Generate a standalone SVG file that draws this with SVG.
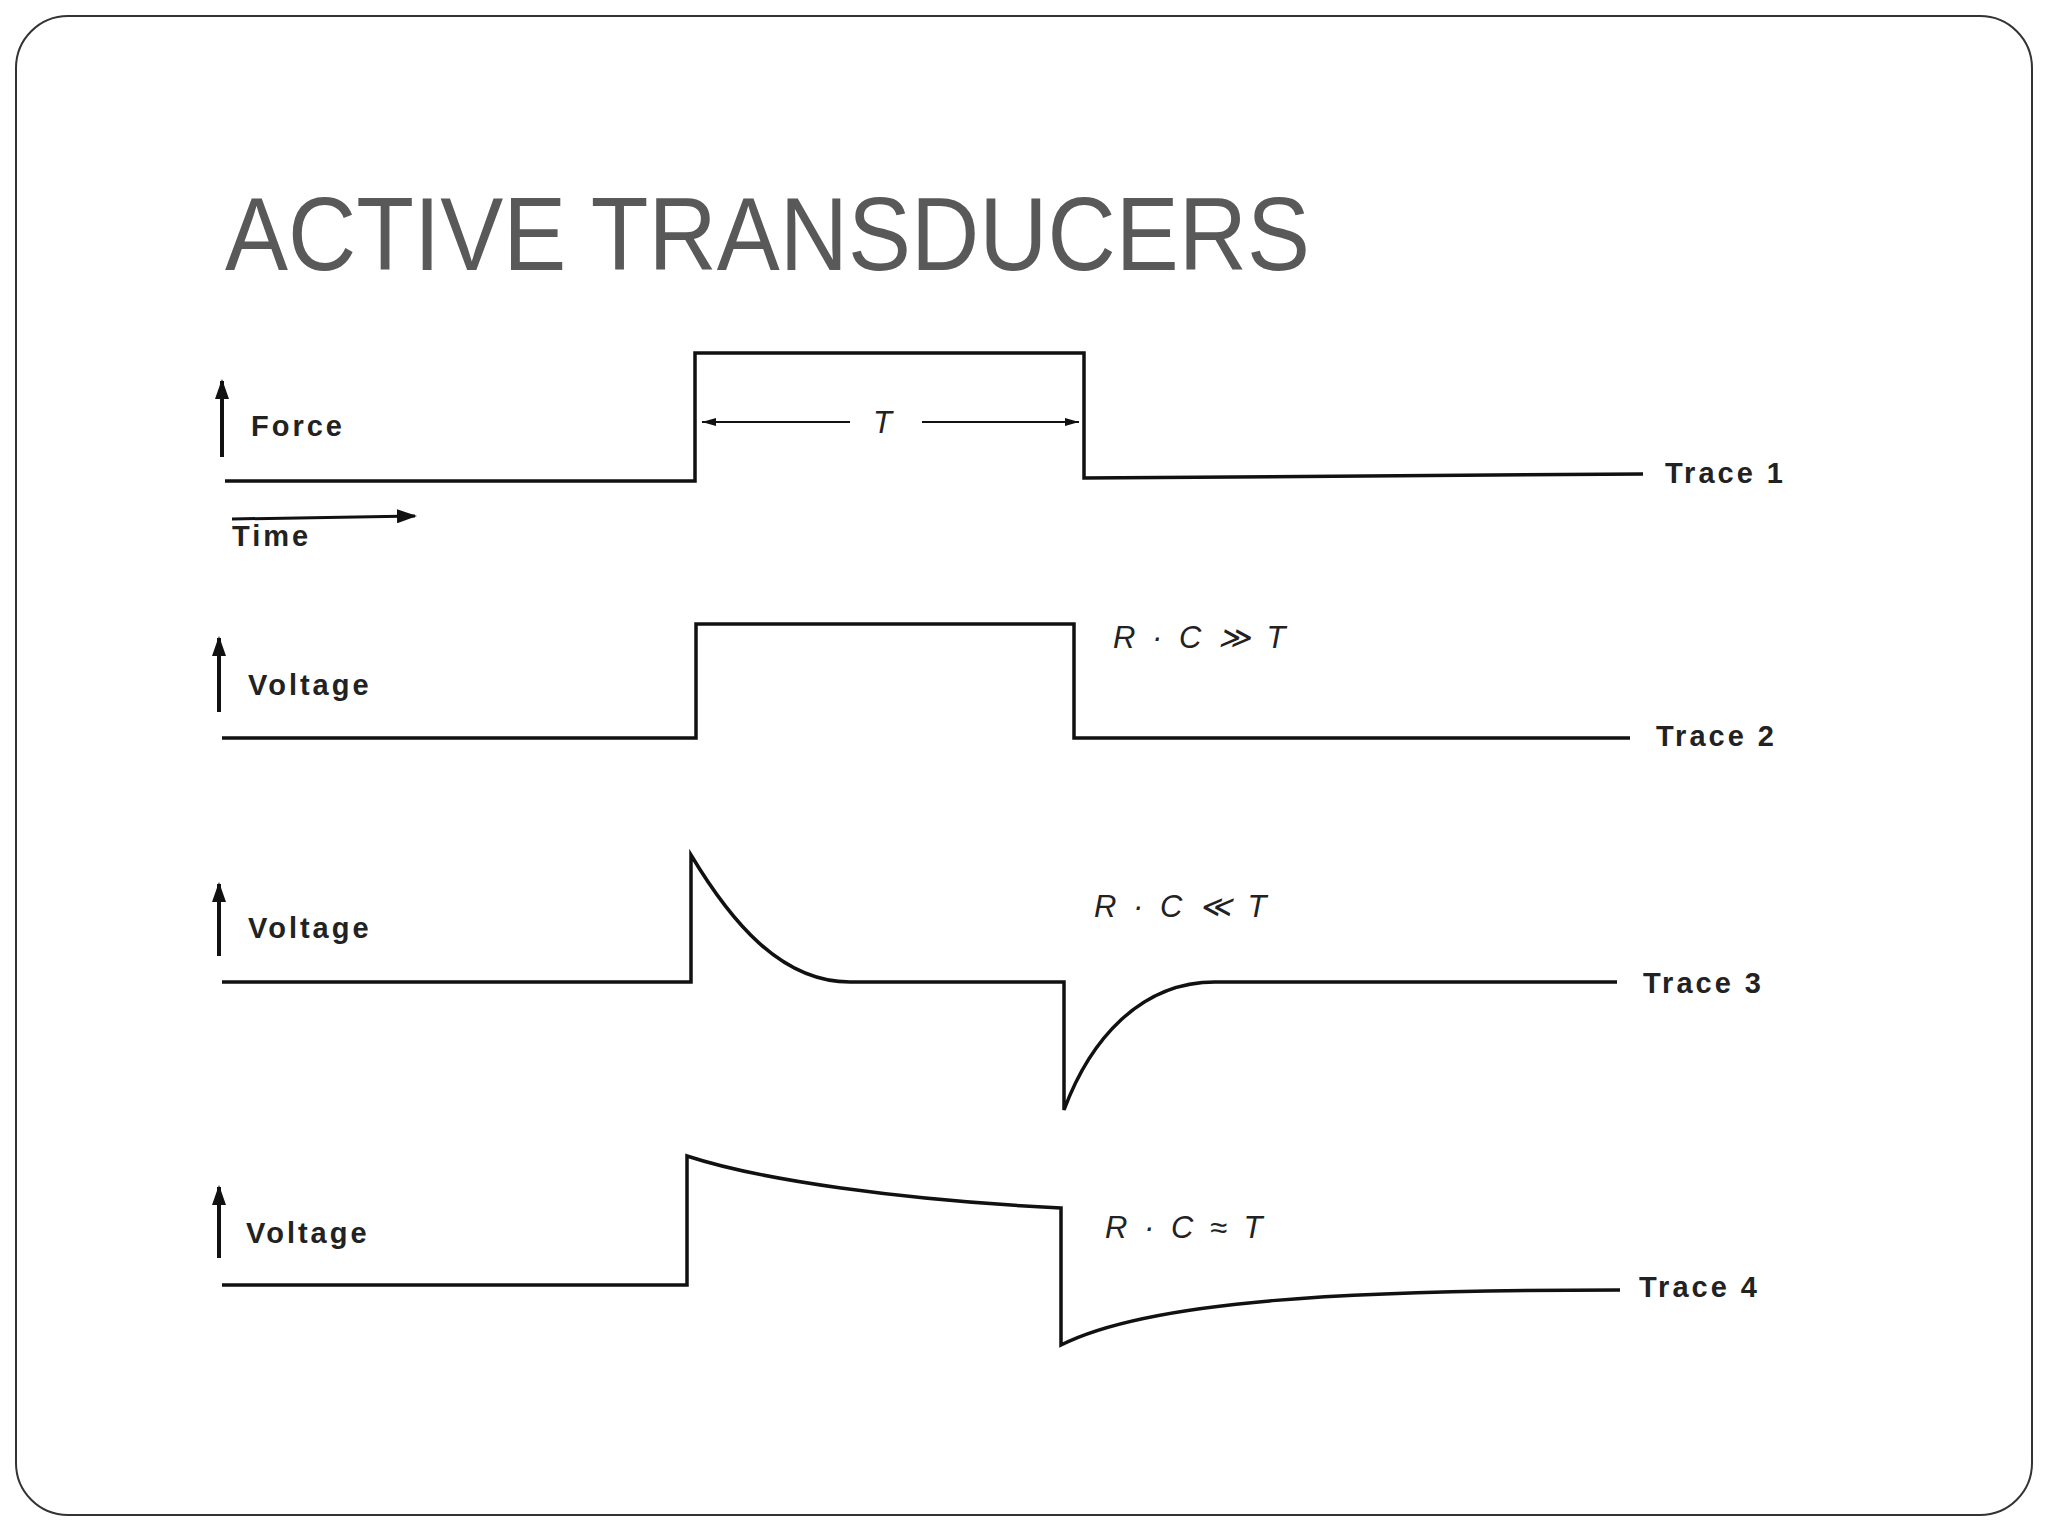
<svg xmlns="http://www.w3.org/2000/svg" width="2048" height="1536" viewBox="0 0 2048 1536">
<defs>
<marker id="ahs" markerWidth="14" markerHeight="10" refX="14" refY="5" orient="auto" markerUnits="userSpaceOnUse"><path d="M0,1 L14,5 L0,9 Z" fill="#111"/></marker>
<marker id="ahb" markerWidth="20" markerHeight="14" refX="18" refY="7" orient="auto" markerUnits="userSpaceOnUse"><path d="M0,0 L20,7 L0,14 Z" fill="#111"/></marker>
</defs>
<style>
.w{fill:none;stroke:#111;stroke-width:3.5;stroke-linejoin:miter}
.ax{fill:none;stroke:#111;stroke-width:4}
.lb{font-family:"Liberation Sans",Arial,sans-serif;font-weight:bold;font-size:29px;fill:#222;letter-spacing:3px}
.rc{font-family:"Liberation Sans",Arial,sans-serif;font-style:italic;font-size:31px;fill:#222;letter-spacing:4px}
</style>
<rect width="2048" height="1536" fill="#fff"/>
<rect x="16" y="16" width="2016" height="1499" rx="52" fill="#fff" stroke="#333" stroke-width="2"/>
<text x="225" y="270" font-family="Liberation Sans,Arial,sans-serif" font-size="104" fill="#595959" textLength="1085" lengthAdjust="spacingAndGlyphs">ACTIVE TRANSDUCERS</text>
<g id="trace1">
<polyline class="w" points="225,481 695,481 695,353 1084,353 1084,478 1643,474"/>
<line class="ax" x1="222" y1="457" x2="222" y2="381" marker-end="url(#ahb)"/>
<text class="lb" x="251" y="436">Force</text>
<line x1="232" y1="519" x2="415" y2="516" stroke="#111" stroke-width="3" marker-end="url(#ahb)"/>
<text class="lb" x="232" y="546">Time</text>
<line x1="850" y1="422" x2="702" y2="422" stroke="#111" stroke-width="2" marker-end="url(#ahs)"/>
<line x1="922" y1="422" x2="1079" y2="422" stroke="#111" stroke-width="2" marker-end="url(#ahs)"/>
<text class="rc" x="873" y="433">T</text>
<text class="lb" x="1665" y="483">Trace 1</text>
</g>
<g id="trace2">
<polyline class="w" points="222,738 696,738 696,624 1074,624 1074,738 1630,738"/>
<line class="ax" x1="219" y1="712" x2="219" y2="638" marker-end="url(#ahb)"/>
<text class="lb" x="248" y="695">Voltage</text>
<text class="rc" x="1113" y="648">R · C ≫ T</text>
<text class="lb" x="1656" y="746">Trace 2</text>
</g>
<g id="trace3">
<path class="w" d="M222,982 L691,982 L691,855 C730,920 780,982 850,982 L1064,982 L1064,1110 C1090,1040 1140,982 1215,982 L1617,982"/>
<line class="ax" x1="219" y1="956" x2="219" y2="884" marker-end="url(#ahb)"/>
<text class="lb" x="248" y="938">Voltage</text>
<text class="rc" x="1094" y="917">R · C ≪ T</text>
<text class="lb" x="1643" y="993">Trace 3</text>
</g>
<g id="trace4">
<path class="w" d="M222,1285 L687,1285 L687,1156 C760,1180 900,1200 1061,1208 L1061,1345 C1150,1300 1350,1290 1620,1290"/>
<line class="ax" x1="219" y1="1258" x2="219" y2="1187" marker-end="url(#ahb)"/>
<text class="lb" x="246" y="1243">Voltage</text>
<text class="rc" x="1105" y="1238">R · C ≈ T</text>
<text class="lb" x="1639" y="1297">Trace 4</text>
</g>
</svg>
